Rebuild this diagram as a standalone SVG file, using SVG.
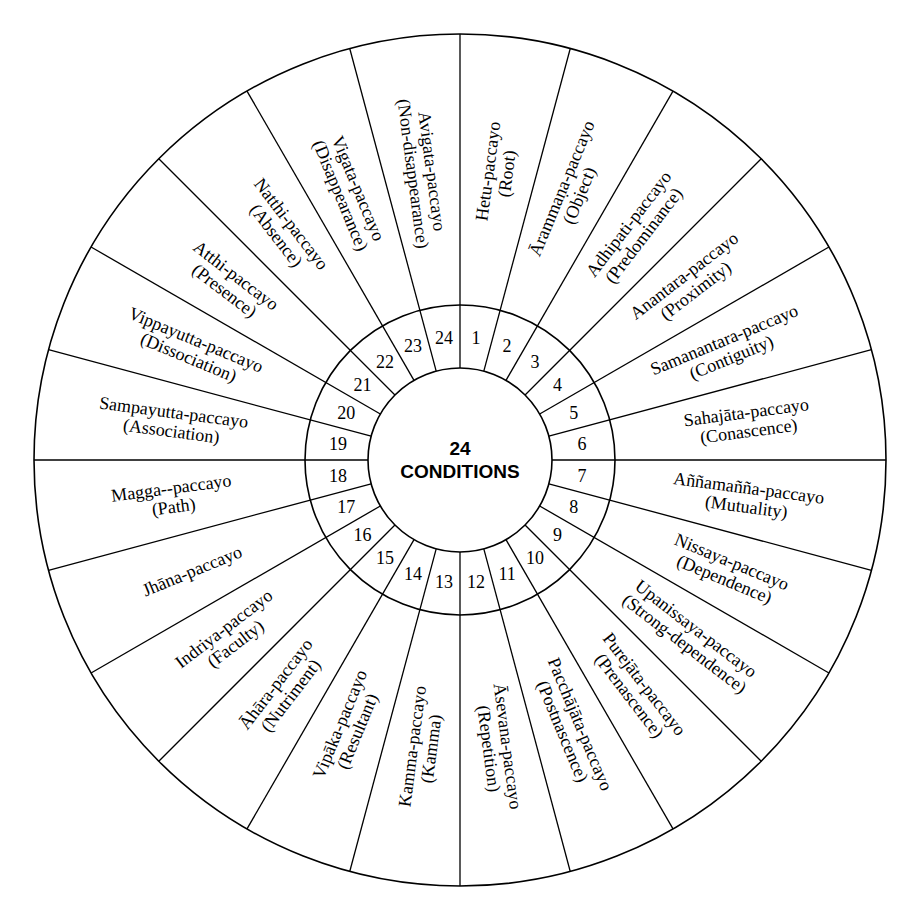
<svg xmlns="http://www.w3.org/2000/svg" width="906" height="906" viewBox="0 0 906 906">
<style>
.c{fill:none;stroke:#000;stroke-width:1.6}
.l{stroke:#000;stroke-width:1.3}
.t{font-family:"Liberation Serif",serif;font-size:18px;text-anchor:middle;fill:#000}
.n{font-family:"Liberation Serif",serif;font-size:18px;text-anchor:middle;fill:#000}
.h{font-family:"Liberation Sans",sans-serif;font-size:19px;font-weight:bold;text-anchor:middle}
</style>
<rect width="906" height="906" fill="#fff"/>
<g id="connectors">
<circle class="c" cx="460" cy="460" r="426"/>
<circle class="c" cx="460" cy="460" r="155"/>
<circle class="c" cx="460" cy="460" r="92"/>
<line class="l" x1="460" y1="368" x2="460" y2="34" transform="rotate(0 460 460)"/>
<line class="l" x1="460" y1="368" x2="460" y2="34" transform="rotate(15 460 460)"/>
<line class="l" x1="460" y1="368" x2="460" y2="34" transform="rotate(30 460 460)"/>
<line class="l" x1="460" y1="368" x2="460" y2="34" transform="rotate(45 460 460)"/>
<line class="l" x1="460" y1="368" x2="460" y2="34" transform="rotate(60 460 460)"/>
<line class="l" x1="460" y1="368" x2="460" y2="34" transform="rotate(75 460 460)"/>
<line class="l" x1="460" y1="368" x2="460" y2="34" transform="rotate(90 460 460)"/>
<line class="l" x1="460" y1="368" x2="460" y2="34" transform="rotate(105 460 460)"/>
<line class="l" x1="460" y1="368" x2="460" y2="34" transform="rotate(120 460 460)"/>
<line class="l" x1="460" y1="368" x2="460" y2="34" transform="rotate(135 460 460)"/>
<line class="l" x1="460" y1="368" x2="460" y2="34" transform="rotate(150 460 460)"/>
<line class="l" x1="460" y1="368" x2="460" y2="34" transform="rotate(165 460 460)"/>
<line class="l" x1="460" y1="368" x2="460" y2="34" transform="rotate(180 460 460)"/>
<line class="l" x1="460" y1="368" x2="460" y2="34" transform="rotate(195 460 460)"/>
<line class="l" x1="460" y1="368" x2="460" y2="34" transform="rotate(210 460 460)"/>
<line class="l" x1="460" y1="368" x2="460" y2="34" transform="rotate(225 460 460)"/>
<line class="l" x1="460" y1="368" x2="460" y2="34" transform="rotate(240 460 460)"/>
<line class="l" x1="460" y1="368" x2="460" y2="34" transform="rotate(255 460 460)"/>
<line class="l" x1="460" y1="368" x2="460" y2="34" transform="rotate(270 460 460)"/>
<line class="l" x1="460" y1="368" x2="460" y2="34" transform="rotate(285 460 460)"/>
<line class="l" x1="460" y1="368" x2="460" y2="34" transform="rotate(300 460 460)"/>
<line class="l" x1="460" y1="368" x2="460" y2="34" transform="rotate(315 460 460)"/>
<line class="l" x1="460" y1="368" x2="460" y2="34" transform="rotate(330 460 460)"/>
<line class="l" x1="460" y1="368" x2="460" y2="34" transform="rotate(345 460 460)"/>
</g>
<g id="center"><text class="h" x="460" y="455">24</text><text class="h" x="460" y="478">CONDITIONS</text></g>
<g id="s1"><g transform="rotate(7.5 460 460) translate(460 170) rotate(-90)"><text class="t" y="-4">Hetu-paccayo</text><text class="t" y="15">(Root)</text></g><text class="n" transform="rotate(7.5 460 460) translate(460 337) rotate(-7.5)" y="6">1</text></g>
<g id="s2"><g transform="rotate(22.5 460 460) translate(460 170) rotate(-90)"><text class="t" y="-4">Ārammaṇa-paccayo</text><text class="t" y="15">(Object)</text></g><text class="n" transform="rotate(22.5 460 460) translate(460 337) rotate(-22.5)" y="6">2</text></g>
<g id="s3"><g transform="rotate(37.5 460 460) translate(460 170) rotate(-90)"><text class="t" y="-4">Adhipati-paccayo</text><text class="t" y="15">(Predominance)</text></g><text class="n" transform="rotate(37.5 460 460) translate(460 337) rotate(-37.5)" y="6">3</text></g>
<g id="s4"><g transform="rotate(52.5 460 460) translate(460 170) rotate(-90)"><text class="t" y="-4">Anantara-paccayo</text><text class="t" y="15">(Proximity)</text></g><text class="n" transform="rotate(52.5 460 460) translate(460 337) rotate(-52.5)" y="6">4</text></g>
<g id="s5"><g transform="rotate(67.5 460 460) translate(460 170) rotate(-90)"><text class="t" y="-4">Samanantara-paccayo</text><text class="t" y="15">(Contiguity)</text></g><text class="n" transform="rotate(67.5 460 460) translate(460 337) rotate(-67.5)" y="6">5</text></g>
<g id="s6"><g transform="rotate(82.5 460 460) translate(460 170) rotate(-90)"><text class="t" y="-4">Sahajāta-paccayo</text><text class="t" y="15">(Conascence)</text></g><text class="n" transform="rotate(82.5 460 460) translate(460 337) rotate(-82.5)" y="6">6</text></g>
<g id="s7"><g transform="rotate(97.5 460 460) translate(460 170) rotate(-90)"><text class="t" y="-4">Aññamañña-paccayo</text><text class="t" y="15">(Mutuality)</text></g><text class="n" transform="rotate(97.5 460 460) translate(460 337) rotate(-97.5)" y="6">7</text></g>
<g id="s8"><g transform="rotate(112.5 460 460) translate(460 170) rotate(-90)"><text class="t" y="-4">Nissaya-paccayo</text><text class="t" y="15">(Dependence)</text></g><text class="n" transform="rotate(112.5 460 460) translate(460 337) rotate(-112.5)" y="6">8</text></g>
<g id="s9"><g transform="rotate(127.5 460 460) translate(460 170) rotate(-90)"><text class="t" y="-4">Upanissaya-paccayo</text><text class="t" y="15">(Strong-dependence)</text></g><text class="n" transform="rotate(127.5 460 460) translate(460 337) rotate(-127.5)" y="6">9</text></g>
<g id="s10"><g transform="rotate(142.5 460 460) translate(460 170) rotate(-90)"><text class="t" y="-4">Purejāta-paccayo</text><text class="t" y="15">(Prenascence)</text></g><text class="n" transform="rotate(142.5 460 460) translate(460 337) rotate(-142.5)" y="6">10</text></g>
<g id="s11"><g transform="rotate(157.5 460 460) translate(460 170) rotate(-90)"><text class="t" y="-4">Pacchājāta-paccayo</text><text class="t" y="15">(Postnascence)</text></g><text class="n" transform="rotate(157.5 460 460) translate(460 337) rotate(-157.5)" y="6">11</text></g>
<g id="s12"><g transform="rotate(172.5 460 460) translate(460 170) rotate(-90)"><text class="t" y="-4">Āsevana-paccayo</text><text class="t" y="15">(Repetition)</text></g><text class="n" transform="rotate(172.5 460 460) translate(460 337) rotate(-172.5)" y="6">12</text></g>
<g id="s13"><g transform="rotate(187.5 460 460) translate(460 170) rotate(90)"><text class="t" y="-4">Kamma-paccayo</text><text class="t" y="15">(Kamma)</text></g><text class="n" transform="rotate(187.5 460 460) translate(460 337) rotate(-187.5)" y="6">13</text></g>
<g id="s14"><g transform="rotate(202.5 460 460) translate(460 170) rotate(90)"><text class="t" y="-4">Vipāka-paccayo</text><text class="t" y="15">(Resultant)</text></g><text class="n" transform="rotate(202.5 460 460) translate(460 337) rotate(-202.5)" y="6">14</text></g>
<g id="s15"><g transform="rotate(217.5 460 460) translate(460 170) rotate(90)"><text class="t" y="-4">Āhāra-paccayo</text><text class="t" y="15">(Nutriment)</text></g><text class="n" transform="rotate(217.5 460 460) translate(460 337) rotate(-217.5)" y="6">15</text></g>
<g id="s16"><g transform="rotate(232.5 460 460) translate(460 170) rotate(90)"><text class="t" y="-4">Indriya-paccayo</text><text class="t" y="15">(Faculty)</text></g><text class="n" transform="rotate(232.5 460 460) translate(460 337) rotate(-232.5)" y="6">16</text></g>
<g id="s17"><g transform="rotate(247.5 460 460) translate(460 170) rotate(90)"><text class="t" y="6">Jhāna-paccayo</text></g><text class="n" transform="rotate(247.5 460 460) translate(460 337) rotate(-247.5)" y="6">17</text></g>
<g id="s18"><g transform="rotate(262.5 460 460) translate(460 170) rotate(90)"><text class="t" y="-4">Magga--paccayo</text><text class="t" y="15">(Path)</text></g><text class="n" transform="rotate(262.5 460 460) translate(460 337) rotate(-262.5)" y="6">18</text></g>
<g id="s19"><g transform="rotate(277.5 460 460) translate(460 170) rotate(90)"><text class="t" y="-4">Sampayutta-paccayo</text><text class="t" y="15">(Association)</text></g><text class="n" transform="rotate(277.5 460 460) translate(460 337) rotate(-277.5)" y="6">19</text></g>
<g id="s20"><g transform="rotate(292.5 460 460) translate(460 170) rotate(90)"><text class="t" y="-4">Vippayutta-paccayo</text><text class="t" y="15">(Dissociation)</text></g><text class="n" transform="rotate(292.5 460 460) translate(460 337) rotate(-292.5)" y="6">20</text></g>
<g id="s21"><g transform="rotate(307.5 460 460) translate(460 170) rotate(90)"><text class="t" y="-4">Atthi-paccayo</text><text class="t" y="15">(Presence)</text></g><text class="n" transform="rotate(307.5 460 460) translate(460 337) rotate(-307.5)" y="6">21</text></g>
<g id="s22"><g transform="rotate(322.5 460 460) translate(460 170) rotate(90)"><text class="t" y="-4">Natthi-paccayo</text><text class="t" y="15">(Absence)</text></g><text class="n" transform="rotate(322.5 460 460) translate(460 337) rotate(-322.5)" y="6">22</text></g>
<g id="s23"><g transform="rotate(337.5 460 460) translate(460 170) rotate(90)"><text class="t" y="-4">Vigata-paccayo</text><text class="t" y="15">(Disappearance)</text></g><text class="n" transform="rotate(337.5 460 460) translate(460 337) rotate(-337.5)" y="6">23</text></g>
<g id="s24"><g transform="rotate(352.5 460 460) translate(460 170) rotate(90)"><text class="t" y="-4">Avigata-paccayo</text><text class="t" y="15">(Non-disappearance)</text></g><text class="n" transform="rotate(352.5 460 460) translate(460 337) rotate(-352.5)" y="6">24</text></g>
</svg>
